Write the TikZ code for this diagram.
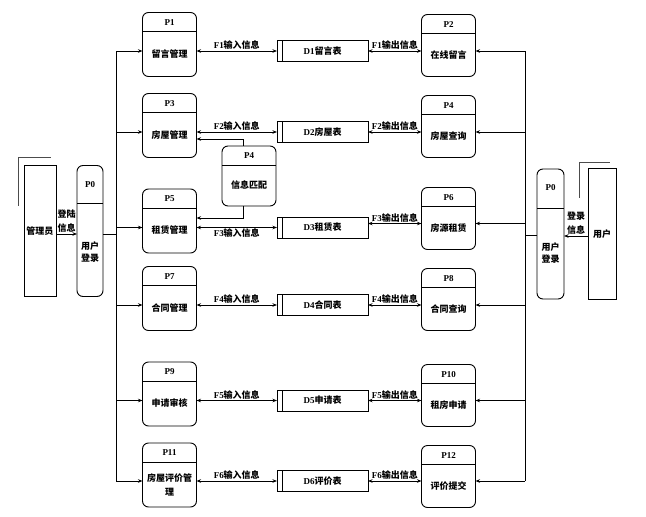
\documentclass[tikz,border=0pt]{standalone}
\usepackage{fontspec}
\setmainfont{Liberation Serif}
\newfontfamily\cjk{Noto Sans CJK SC}
\usetikzlibrary{arrows.meta}
\newcommand{\zh}[1]{{\cjk #1}}
% process box: name, x, y, height, id, text
\newcommand{\procbox}[6]{%
  \node[proc, minimum height=#4] (#1) at (#2,#3) {};
  \draw[line width=0.9pt] ([yshift=-19pt]#1.north west) -- ([yshift=-19pt]#1.north east);
  \node[idtext] (#1id) at ([yshift=-10pt]#1.north) {#5};
  \node[bodytext] (#1txt) at ([yshift=-9.5pt]#1.center) {#6};
}

\begin{document}
\begin{tikzpicture}[x=1pt, y=-1pt,
  proc/.style={draw, rounded corners=6pt, line width=0.9pt, minimum width=54pt,
               inner sep=0pt, outer sep=0pt},
  idtext/.style={font=\bfseries\fontsize{9}{11}\selectfont, inner sep=0pt},
  bodytext/.style={font=\cjk\bfseries\fontsize{9}{14}\selectfont, inner sep=0pt, align=center},
  store/.style={draw, line width=0.9pt, minimum width=91pt, minimum height=21pt,
                inner sep=0pt, outer sep=0pt, font=\bfseries\fontsize{9}{11}\selectfont},
  entity/.style={draw, line width=0.9pt, minimum height=131pt, inner sep=0pt, outer sep=0pt,
                 font=\cjk\bfseries\fontsize{9}{11}\selectfont},
  shade/.style={black!70, line width=0.9pt},
  lbl/.style={font=\bfseries\fontsize{9}{11}\selectfont, inner sep=1pt, align=center},
  arr/.style={-{Stealth[length=4.5pt,width=3.5pt]}, line width=0.8pt},
  dflow/.style={{Stealth[length=4.5pt,width=3.5pt]}-{Stealth[length=4.5pt,width=3.5pt]}, line width=0.8pt}
]
\useasboundingbox (0,0) rectangle (646,517);

% ── external entities and login ─────────────────────────────
\node[entity, minimum width=32pt] (adm) at (40,231) {管理员};
\draw[shade] ([xshift=-6pt,yshift=-40pt]adm.north west) |- ([xshift=-5pt,yshift=8pt]adm.north east);
\node[entity, minimum width=28pt] (usr) at (602,234) {用户};
\draw[shade] ([xshift=-9pt,yshift=-29pt]usr.north west) |- ([xshift=-6pt,yshift=6pt]usr.north east);

\node[proc, minimum width=26pt, minimum height=131pt] (p0l) at (90,231) {};
\draw[line width=0.9pt] ([yshift=-38pt]p0l.north west) -- ([yshift=-38pt]p0l.north east);
\node[idtext] (p0lid) at ([yshift=-19pt]p0l.north) {P0};
\node[bodytext, font=\cjk\bfseries\fontsize{9}{12}\selectfont] (p0ltxt) at ([yshift=-21pt]p0l.center) {用户\\登录};

\node[proc, minimum width=27pt, minimum height=130pt] (p0r) at (550.5,234) {};
\draw[line width=0.9pt] ([yshift=-39pt]p0r.north west) -- ([yshift=-39pt]p0r.north east);
\node[idtext] (p0rid) at ([yshift=-19pt]p0r.north) {P0};
\node[bodytext, font=\cjk\bfseries\fontsize{9}{12}\selectfont] (p0rtxt) at ([yshift=-19.5pt]p0r.center) {用户\\登录};

\draw[arr] ([yshift=-3pt]adm.east) -- node[above, lbl, font=\cjk\bfseries\fontsize{9}{14}\selectfont] {登陆\\信息} ([yshift=-3pt]p0l.west);
\draw[arr] ([yshift=-2pt]usr.west) -- node[above, lbl, font=\cjk\bfseries\fontsize{9}{14}\selectfont] {登录\\信息} ([yshift=-2pt]p0r.east);

% ── processes ───────────────────────────────────────────────
\procbox{p1}{169.5}{44.5}{64pt}{P1}{留言管理}
\procbox{p3}{169.5}{125.5}{64pt}{P3}{房屋管理}
\procbox{p5}{169.5}{221}{64pt}{P5}{租赁管理}
\procbox{p7}{169.5}{298.5}{64pt}{P7}{合同管理}
\procbox{p9}{169.5}{394}{64pt}{P9}{申请审核}
\procbox{p11}{169.5}{475}{64pt}{P11}{房屋评价管\\理}

\procbox{p2}{448.5}{45.5}{62pt}{P2}{在线留言}
\procbox{p4r}{448.5}{126.5}{62pt}{P4}{房屋查询}
\procbox{p6}{448.5}{218.5}{62pt}{P6}{房源租赁}
\procbox{p8}{448.5}{299.5}{62pt}{P8}{合同查询}
\procbox{p10}{448.5}{395.5}{62pt}{P10}{租房申请}
\procbox{p12}{448.5}{476.5}{62pt}{P12}{评价提交}

\procbox{p4}{249}{176}{60pt}{P4}{信息匹配}

% ── data stores ─────────────────────────────────────────────
\node[store] (d1) at (322.5,51)    {D1\zh{留言表}};
\node[store] (d2) at (322.5,132)   {D2\zh{房屋表}};
\node[store] (d3) at (322.5,227.5) {D3\zh{租赁表}};
\node[store] (d4) at (322.5,305)   {D4\zh{合同表}};
\node[store] (d5) at (322.5,400.5) {D5\zh{申请表}};
\node[store] (d6) at (322.5,481)   {D6\zh{评价表}};
\foreach \d in {d1,d2,d3,d4,d5,d6}
  \draw[line width=0.9pt] ([xshift=5pt]\d.north west) -- ([xshift=5pt]\d.south west);

% ── data flows ──────────────────────────────────────────────
\draw[dflow] (p1.east |- d1) -- node[above, lbl] {F1\zh{输入信息}} (d1.west);
\draw[dflow] (d1.east) -- node[above, lbl] {F1\zh{输出信息}} (p2.west |- d1);
\draw[dflow] (p3.east |- d2) -- node[above, lbl] {F2\zh{输入信息}} (d2.west);
\draw[dflow] (d2.east) -- node[above, lbl] {F2\zh{输出信息}} (p4r.west |- d2);
\draw[dflow] (p5.east |- d3) -- node[below, lbl] {F3\zh{输入信息}} (d3.west);
\draw[dflow] ([yshift=4pt]d3.east) -- node[above, lbl] {F3\zh{输出信息}} ([yshift=4pt]p6.west |- d3);
\draw[dflow] (p7.east |- d4) -- node[above, lbl] {F4\zh{输入信息}} (d4.west);
\draw[dflow] (d4.east) -- node[above, lbl] {F4\zh{输出信息}} (p8.west |- d4);
\draw[dflow] (p9.east |- d5) -- node[above, lbl] {F5\zh{输入信息}} (d5.west);
\draw[dflow] (d5.east) -- node[above, lbl] {F5\zh{输出信息}} (p10.west |- d5);
\draw[dflow] (p11.east |- d6) -- node[above, lbl] {F6\zh{输入信息}} (d6.west);
\draw[dflow] (d6.east) -- node[above, lbl] {F6\zh{输出信息}} (p12.west |- d6);

% information matching
\draw[arr] ([xshift=-6pt]p4.north) |- ([yshift=-13.5pt]p3.east);
\draw[arr] ([xshift=-6pt]p4.south) |- ([yshift=3pt]p5.east);

% ── buses ───────────────────────────────────────────────────
\coordinate (lbustop) at (116,51);
\coordinate (lbusbot) at (116,481);
\coordinate (rbustop) at (525,51);
\coordinate (rbusbot) at (525,481);
\draw[line width=0.8pt] (lbustop) -- (lbusbot);
\draw[line width=0.8pt] (rbustop) -- (rbusbot);

\coordinate (ljoin) at ([yshift=-3pt]p0l.east);
\coordinate (rjoin) at ([yshift=-1pt]p0r.west);
\draw[line width=0.8pt] (ljoin) -- (ljoin -| lbustop);
\draw[line width=0.8pt] (rjoin) -- (rjoin -| rbustop);

\foreach \p/\d in {p1/d1,p3/d2,p5/d3,p7/d4,p9/d5,p11/d6}
  \draw[arr] (lbustop |- \d) -- (\p.west |- \d);
\foreach \p/\d in {p2/d1,p4r/d2,p8/d4,p10/d5,p12/d6}
  \draw[arr] (rbustop |- \d) -- (\p.east |- \d);
\draw[arr] ([yshift=4pt]rbustop |- d3) -- ([yshift=4pt]p6.east |- d3);

\end{tikzpicture}
\end{document}
